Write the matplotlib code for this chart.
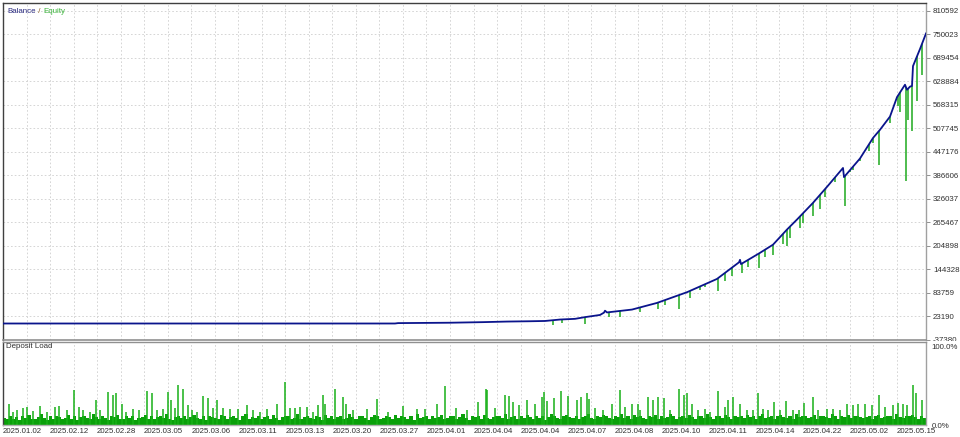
import numpy as np
import matplotlib
matplotlib.use("Agg")
import matplotlib.pyplot as plt
from matplotlib.offsetbox import TextArea, HPacker, AnchoredOffsetbox
from matplotlib.transforms import Bbox, TransformedBbox

plt.rcParams['font.family'] = ['Liberation Sans', 'DejaVu Sans']

# x axis is the deal number (0 .. 923)
date_labels = ['2025.01.02', '2025.02.12', '2025.02.28', '2025.03.05', '2025.03.06',
               '2025.03.11', '2025.03.13', '2025.03.20', '2025.03.27', '2025.04.01',
               '2025.04.04', '2025.04.04', '2025.04.07', '2025.04.08', '2025.04.10',
               '2025.04.11', '2025.04.14', '2025.04.22', '2025.05.02', '2025.05.15']

value_ticks = [-37380, 23190, 83759, 144328, 204898, 265467, 326037, 386606,
               447176, 507745, 568315, 628884, 689454, 750023, 810592]

# balance curve (deal, balance)
bal_deal = [0, 392, 395, 447, 480, 504, 527, 542, 557, 572, 582, 597, 601, 602, 604,
            629, 654, 684, 714, 736, 737, 738, 757, 770, 784, 794, 810, 825, 840, 841,
            857, 870, 877, 887, 894, 902, 904, 907, 909, 910, 917, 923]
bal_value = [5000, 5000, 6000, 7000, 8500, 10000, 10800, 11500, 15200, 17000, 21400,
             27000, 33000, 38000, 33500, 40900, 58000, 85600, 119800, 162600, 169000,
             158000, 187000, 208000, 247000, 272800, 315700, 360000, 405600, 382000,
             430000, 482800, 504000, 538000, 588000, 620000, 607000, 615000, 617000,
             668000, 712000, 752000]

# equity drawdown spikes (deal, lowest equity)
eq_deal = [550, 559, 582, 606, 617, 637, 655, 662, 676, 687, 697, 702, 715, 722, 729,
           739, 745, 756, 762, 770, 780, 784, 787, 797, 800, 810, 817, 822, 832, 842,
           847, 850, 857, 866, 870, 876, 887, 895, 897, 903, 905, 909, 914, 919]
eq_low = [2000, 6000, 3000, 21500, 22000, 35000, 43000, 52000, 43000, 70000, 90000,
          100000, 88500, 115000, 127000, 134000, 150000, 147000, 175000, 181000, 209000,
          205000, 225000, 250000, 265000, 281000, 300000, 330000, 370000, 307000,
          395000, 400000, 423000, 448000, 470000, 414000, 522000, 564000, 551000,
          371000, 530000, 500000, 577000, 645000]

# deposit load, background level per block of deals (%)
load_base = [
    9, 7, 12, 8, 10, 6, 11, 9, 13, 7, 8, 10, 14, 9, 6, 11, 8, 12, 10, 7, 9, 13,
    8, 11, 6, 10, 12, 9, 7, 14, 10, 8, 11, 9, 6, 12, 10, 13, 8, 7, 11, 9,
    12, 6, 9, 10, 13, 8, 11, 7, 10, 12, 9, 14, 8, 6, 10, 11, 9, 12, 7, 10,
    13, 9, 8, 11, 6, 12, 10, 9, 7, 13, 11, 8, 10, 12, 9, 6, 11, 14, 8, 10,
    9, 12, 7, 10, 11, 8, 13, 9, 6, 10, 12, 11, 8, 9, 14, 7, 10, 12, 9, 8,
    11, 10, 6, 13, 9, 12, 8, 10, 11, 7, 9, 14, 10, 8, 12, 11, 9, 6, 10, 13,
    12, 8, 9, 11, 10, 7, 13, 9, 12, 10, 8, 11, 6, 14, 9, 10, 12, 8, 11, 9,
    10, 13, 7, 9, 12, 11, 8, 10, 14, 9, 6, 12, 10, 11, 8, 13, 9, 7, 10, 12,
    11, 9, 14, 8, 10, 12, 7, 11, 9, 13, 10, 8, 12, 9, 11, 6, 10, 14, 12, 9,
    8, 11, 13, 10, 9, 12, 7, 10, 11, 14, 9, 8, 12, 10, 13, 11, 9, 7, 12, 10,
    14, 9, 11, 8, 13, 10, 12, 9, 7, 11, 10, 13, 8, 12, 9, 10, 14, 11, 8, 10,
    12, 9, 13, 10, 8, 11, 12, 9, 14, 10, 7, 12, 11, 9, 13, 10, 8, 12, 10, 11,
    9, 13, 10, 12, 8, 11, 14, 9, 10, 12, 7, 11, 13, 10, 9, 12, 8, 14, 10, 11,
    12, 9, 10, 13, 8, 11, 12, 10, 9, 14, 11, 8, 12, 10, 13, 9, 11, 12, 10, 9,
    10, 12, 8, 11, 13, 9, 10, 12, 11, 8, 14, 10, 9, 12, 11, 13, 10, 8, 12, 9]

# deposit load peaks (deal, %)
load_deal = [6, 10, 14, 20, 24, 30, 37, 44, 52, 56, 64, 71, 76, 80, 87, 93, 97, 105,
             110, 113, 119, 123, 130, 136, 144, 149, 154, 160, 165, 168, 172, 175, 180,
             185, 189, 194, 200, 205, 210, 214, 220, 227, 235, 244, 250, 257, 264, 274,
             282, 287, 292, 297, 304, 310, 315, 320, 322, 332, 340, 343, 350, 364, 374,
             385, 400, 414, 422, 434, 442, 453, 464, 475, 483, 484, 492, 502, 506, 510,
             516, 524, 532, 539, 541, 544, 551, 558, 565, 574, 578, 584, 586, 592, 600,
             609, 617, 622, 629, 635, 637, 645, 650, 655, 661, 667, 676, 681, 684, 689,
             695, 702, 707, 715, 722, 725, 730, 737, 744, 750, 755, 760, 765, 771, 777,
             783, 790, 796, 801, 810, 815, 824, 830, 837, 844, 850, 855, 862, 869, 876,
             882, 890, 895, 900, 904, 910, 913, 919]
load_pct = [27, 17, 19, 21, 23, 18, 24, 16, 23, 24, 19, 44, 23, 19, 16, 32, 19, 42,
            38, 40, 27, 17, 20, 19, 43, 40, 19, 20, 42, 32, 22, 51, 46, 25, 19, 17,
            37, 34, 22, 32, 21, 20, 20, 25, 19, 17, 20, 27, 55, 21, 22, 23, 23, 17,
            25, 38, 27, 46, 36, 27, 19, 20, 33, 17, 24, 20, 20, 27, 49, 22, 19, 29,
            45, 44, 22, 38, 37, 29, 25, 32, 27, 36, 42, 31, 34, 43, 37, 32, 36, 40,
            33, 22, 19, 26, 44, 23, 27, 26, 19, 36, 32, 36, 34, 19, 46, 38, 41, 26,
            19, 20, 17, 43, 23, 32, 36, 26, 19, 19, 41, 20, 19, 29, 19, 30, 19, 19,
            28, 36, 19, 20, 20, 19, 27, 25, 26, 27, 25, 38, 23, 25, 28, 26, 25, 51,
            40, 32]

W, H = 960, 437
fig = plt.figure(figsize=(W / 100, H / 100), dpi=100)
fig.patch.set_facecolor('white')

def frac(x0, y_top, x1, y_bot):
    return [x0 / W, 1 - y_bot / H, (x1 - x0) / W, (y_bot - y_top) / H]

ax = fig.add_axes(frac(3, 3, 926, 340))
ax2 = fig.add_axes(frac(3, 341.5, 926, 425), sharex=ax)

grid_kw = dict(color='#CFCFCF', linestyle=(0, (2, 2.5)), linewidth=0.6)
green = '#1EAA1E'
blue = '#0A148C'

# balance / equity
top = np.interp(eq_deal, np.array(bal_deal), bal_value)
ax.vlines(eq_deal, eq_low, top, color=green, linewidth=1.1, zorder=3)
ax.plot(bal_deal, bal_value, color=blue, linewidth=1.3, zorder=4)

ax.set_xlim(0, 923)
ax.set_ylim(-37500, 830470)
ax.set_yticks(value_ticks)
ax.set_yticklabels([str(v) for v in value_ticks])
ax.yaxis.tick_right()
ax.tick_params(axis='y', length=3, width=0.6, color='#808080', pad=2,
               labelsize=5.7, labelcolor='#303030')
ax.tick_params(axis='x', which='both', length=0, labelbottom=False)
major = np.arange(len(date_labels)) * 47.05
ax.set_xticks(major)
ax.set_xticks(major[:-1] + 23.5, minor=True)
ax.grid(True, which='both', **grid_kw)
ax.set_axisbelow(True)

for side, col, lw in [('top', '#404040', 1.0), ('left', '#404040', 1.0),
                      ('right', '#A0A0A0', 1.0), ('bottom', '#909090', 1.2)]:
    ax.spines[side].set_color(col)
    ax.spines[side].set_linewidth(lw)

# clip the lowest value label at the panel edge
clip = TransformedBbox(Bbox([[0.95, 1 - 341 / H], [1, 1]]), fig.transFigure)
for lbl in ax.get_yticklabels():
    lbl.set_clip_box(clip)
    lbl.set_clip_on(True)

parts = [TextArea('Balance', textprops=dict(color='#2A2A80', size=5.7)),
         TextArea(' / ', textprops=dict(color='#8A5A20', size=5.7)),
         TextArea('Equity', textprops=dict(color='#3CB43C', size=5.7))]
box = AnchoredOffsetbox(loc='upper left', child=HPacker(children=parts, pad=0, sep=0),
                        pad=0, borderpad=0.35, frameon=False)
ax.add_artist(box)

# deposit load
step = 923 / len(load_base)
base_x = np.arange(len(load_base)) * step
ax2.bar(base_x, load_base, width=step, align='edge', color='#0AA00A', linewidth=0)
ax2.vlines(load_deal, 0, load_pct, color='#18B018', linewidth=1.1)
ax2.set_ylim(0, 105.7)
ax2.set_yticks([0, 100])
ax2.set_yticklabels(['0.0%', '100.0%'])
ax2.yaxis.tick_right()
ax2.tick_params(axis='y', length=0, pad=4, labelsize=5.7, labelcolor='#303030')
ax2.set_xticks(major)
ax2.set_xticks(major[:-1] + 23.5, minor=True)
ax2.set_xticklabels(date_labels)
ax2.tick_params(axis='x', which='both', length=0, pad=2, labelsize=5.7,
                labelcolor='#303030')
for lbl in ax2.get_xticklabels():
    lbl.set_ha('left')
ax2.grid(True, axis='x', which='both', **grid_kw)
ax2.set_axisbelow(True)
ax2.text(0.003, 0.935, 'Deposit Load', transform=ax2.transAxes, va='center',
         ha='left', fontsize=5.7, color='#303030')
for side, col in [('top', '#909090'), ('left', '#404040'), ('right', '#A0A0A0'),
                  ('bottom', '#B0B0B0')]:
    ax2.spines[side].set_color(col)
    ax2.spines[side].set_linewidth(1.0)

fig.savefig('out.png', dpi=100, facecolor='white')
